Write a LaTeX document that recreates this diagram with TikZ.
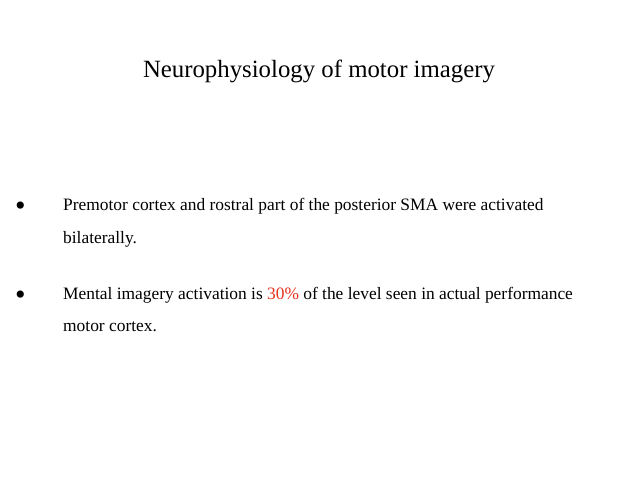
\documentclass[tikz,border=0pt]{standalone}
\usepackage{fontspec}
\setmainfont{Liberation Serif}
\definecolor{hl}{HTML}{E8321E}
\begin{document}
\begin{tikzpicture}[x=1pt,y=-1pt,
  body/.style={anchor=base west,inner sep=0pt,font=\fontsize{17.4}{20}\selectfont},
  bul/.style={anchor=base west,inner sep=0pt,font=\fontsize{30}{32}\selectfont}]
\useasboundingbox[fill=white] (0,0) rectangle (638,479);
\node[anchor=base,inner sep=0pt,font=\fontsize{24.8}{28}\selectfont] (title) at (319,77) {Neurophysiology of motor imagery};
\node[bul] (b1) at (15,215) {•};
\node[body] (l1) at (63,210) {Premotor cortex and rostral part of the posterior SMA were activated};
\node[body] (l2) at (63,243) {bilaterally.};
\node[bul] (b2) at (15,304) {•};
\node[body] (l3) at (63,299) {Mental imagery activation is \textcolor{hl}{30\%} of the level seen in actual performance};
\node[body] (l4) at (63,331) {motor cortex.};
\end{tikzpicture}
\end{document}
